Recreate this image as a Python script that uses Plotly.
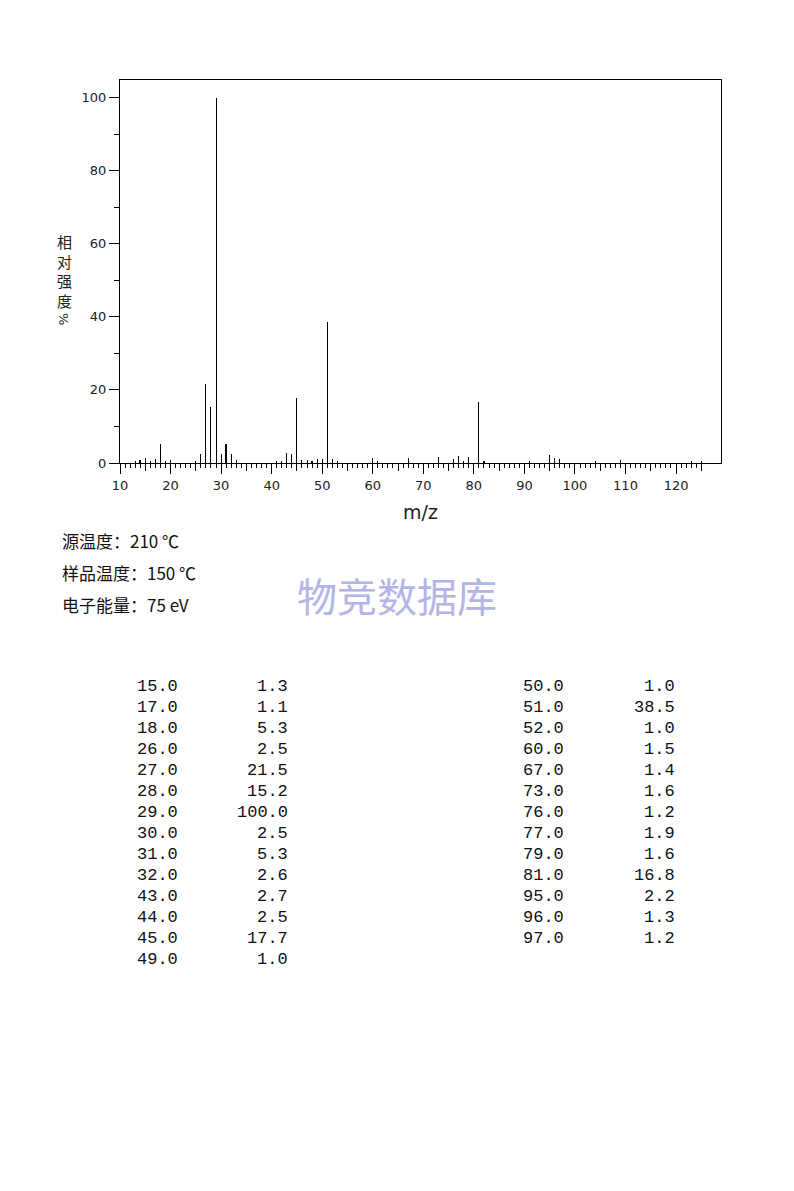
import plotly.graph_objects as go

# ---- data ----
# peaks listed in the table (m/z, relative intensity %)
table_mz = [15.0, 17.0, 18.0, 26.0, 27.0, 28.0, 29.0, 30.0, 31.0, 32.0, 43.0, 44.0, 45.0, 49.0,
            50.0, 51.0, 52.0, 60.0, 67.0, 73.0, 76.0, 77.0, 79.0, 81.0, 95.0, 96.0, 97.0]
table_int = [1.3, 1.1, 5.3, 2.5, 21.5, 15.2, 100.0, 2.5, 5.3, 2.6, 2.7, 2.5, 17.7, 1.0,
             1.0, 38.5, 1.0, 1.5, 1.4, 1.6, 1.2, 1.9, 1.6, 16.8, 2.2, 1.3, 1.2]
# small peaks drawn in the spectrum but not listed (estimated)
minor_mz = [13, 14, 16, 19, 20, 25, 33, 41, 42, 46, 47, 48, 53, 61, 78, 82, 91, 104, 109, 123, 125]
minor_int = [0.5, 0.7, 0.5, 0.6, 0.9, 0.5, 0.9, 0.3, 0.55, 0.7, 0.7, 0.55, 0.3, 0.3, 0.55, 0.45,
             0.3, 0.45, 0.9, 0.45, 0.45]

x_major = [10, 20, 30, 40, 50, 60, 70, 80, 90, 100, 110, 120]
x_mid = [15, 25, 35, 45, 55, 65, 75, 85, 95, 105, 115, 125]
x_minor = list(range(11, 126))
y_major = [0, 20, 40, 60, 80, 100]
y_minor = [10, 30, 50, 70, 90]

info_lines = ["源温度：210 ℃", "样品温度：150 ℃", "电子能量：75 eV"]
y_title = "相<br>对<br>强<br>度"
watermark = "物竞数据库"

# style: sticks that appear doubled (2 px) in the original raster
thick_sticks = {14, 31, 48, 82}

W, H = 794, 1191


def px(x):
    return x / W


def py(y):
    return 1 - y / H


all_peaks = sorted(list(zip(table_mz, table_int)) + list(zip(minor_mz, minor_int)))
peak_x = [m for m, v in all_peaks]
peak_y = [v for m, v in all_peaks]
bar_w = [0.2 if m in thick_sticks else 0.002 for m in peak_x]

fig = go.Figure()
fig.add_trace(go.Bar(x=peak_x, y=peak_y, width=bar_w, marker=dict(color="black", line=dict(width=0)),
                     hoverinfo="skip", showlegend=False))
# dummy trace on the overlay axis for 5-unit ticks
fig.add_trace(go.Scatter(x=[None], y=[None], xaxis="x2", yaxis="y", showlegend=False))

X0, X1, Y0, Y1 = 120, 721, 80, 463
xr = [10, 10 + (X1 - X0) / 5.055]
yr = [0, (Y1 - Y0) / 3.655]

tickfont = dict(family="DejaVu Sans", size=13, color="#222")

fig.update_layout(
    width=W, height=H,
    margin=dict(l=0, r=0, t=0, b=0, pad=0, autoexpand=False),
    paper_bgcolor="white", plot_bgcolor="white",
    showlegend=False, bargap=0,
    xaxis=dict(domain=[px(X0), px(X1)], range=xr, showgrid=False, zeroline=False, automargin=False,
               showline=True, linecolor="black", linewidth=1, mirror=True,
               tickmode="array", tickvals=x_major, ticktext=[str(v) for v in x_major],
               ticks="outside", ticklen=10, tickwidth=1, tickcolor="black", tickfont=tickfont,
               minor=dict(tickmode="array", tickvals=x_minor, ticks="outside", ticklen=4,
                          tickwidth=1, tickcolor="black", showgrid=False)),
    xaxis2=dict(domain=[px(X0), px(X1)], range=xr, overlaying="x", anchor="y", side="bottom",
                automargin=False,
                showgrid=False, zeroline=False, showline=False, showticklabels=False,
                tickmode="array", tickvals=x_mid, ticks="outside", ticklen=7, tickwidth=1,
                tickcolor="black"),
    yaxis=dict(domain=[py(Y1), py(Y0)], range=yr, showgrid=False, zeroline=False, automargin=False,
               showline=True, linecolor="black", linewidth=1, mirror=True,
               tickmode="array", tickvals=y_major, ticktext=[str(v) for v in y_major],
               ticks="outside", ticklen=10, tickwidth=1, tickcolor="black", tickfont=tickfont,
               minor=dict(tickmode="array", tickvals=y_minor, ticks="outside", ticklen=5,
                          tickwidth=1, tickcolor="black", showgrid=False)),
)

ann = []
# y-axis title, stacked characters
ann.append(dict(x=px(64), y=py(271), xref="paper", yref="paper", text=y_title,
                showarrow=False, xanchor="center", yanchor="middle", borderpad=0,
                font=dict(family="Noto Sans CJK SC", size=15, color="#222")))
ann.append(dict(x=px(64), y=py(319), xref="paper", yref="paper", text="%", textangle=90,
                showarrow=False, xanchor="center", yanchor="middle", borderpad=0,
                font=dict(family="DejaVu Sans", size=13, color="#222")))
# x-axis title
ann.append(dict(x=px(420), y=py(512), xref="paper", yref="paper", text="m/z",
                showarrow=False, xanchor="center", yanchor="middle",
                font=dict(family="DejaVu Sans", size=19, color="#222")))
# info lines
for i, t in enumerate(info_lines):
    ann.append(dict(x=px(60), y=py(541 + i * 31.5), xref="paper", yref="paper", text=t,
                    showarrow=False, xanchor="left", yanchor="middle",
                    font=dict(family="Noto Sans CJK SC", size=17, color="#111")))
# watermark
ann.append(dict(x=px(397), y=py(595), xref="paper", yref="paper", text=watermark,
                showarrow=False, xanchor="center", yanchor="middle",
                font=dict(family="Noto Sans CJK SC", size=40, color="#b4b4e6")))

# peak table
mono = dict(family="Liberation Mono", size=17, color="#111")
n_left = 14
for i, (m, v) in enumerate(zip(table_mz, table_int)):
    if i < n_left:
        row, xm, xv = i, 180, 290
    else:
        row, xm, xv = i - n_left, 566, 677
    yy = py(686 + row * 21)
    ann.append(dict(x=px(xm), y=yy, xref="paper", yref="paper", text=f"{m:.1f}",
                    showarrow=False, xanchor="right", yanchor="middle", font=mono))
    ann.append(dict(x=px(xv), y=yy, xref="paper", yref="paper", text=f"{v:.1f}",
                    showarrow=False, xanchor="right", yanchor="middle", font=mono))

fig.update_layout(annotations=ann)
fig.write_html(
    "out.html",
    config={"displayModeBar": False},
    post_script=("document.body.style.margin='0';"
                 "document.body.style.overflow='hidden';"
                 "document.documentElement.style.overflow='hidden';"),
)
